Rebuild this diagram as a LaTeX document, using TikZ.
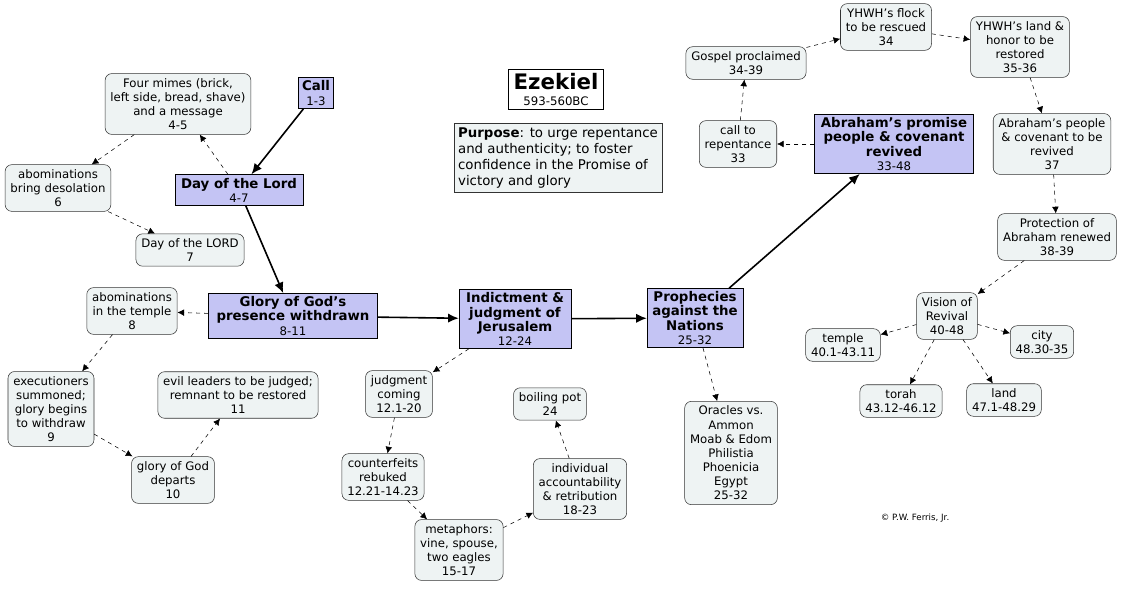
\documentclass[tikz,border=0pt]{standalone}
\usepackage{fontspec}
\setmainfont{DejaVu Sans}
\usetikzlibrary{positioning}
\usetikzlibrary{arrows.meta}
\definecolor{cLite}{HTML}{EEF3F3}
\definecolor{cMain}{HTML}{C4C4F4}
\tikzset{
  sub/.style  = {draw=black!80,fill=cLite,rounded corners=5pt,align=center,font=\fontsize{8.8}{10.6}\selectfont,inner xsep=4pt,inner ysep=3.5pt},
  main/.style = {draw=black,fill=cMain,align=center,font=\fontsize{8.8}{10.6}\selectfont,inner sep=2.5pt},
  subArrow/.style  = {-{Latex[length=5pt,width=5pt]},dashed,thin},
  mainArrow/.style = {-{Latex[length=8pt,width=7pt]},line width=1.2pt}
}
\newcommand{\hd}[1]{{\fontsize{10}{11.5}\selectfont\bfseries #1}}
\begin{document}
\begin{tikzpicture}[x=0.75pt,y=-0.75pt]
\useasboundingbox (0,0) rectangle (1126,589);
% title and purpose
\node at (556,89) [draw=black,fill=white,align=center,inner xsep=4pt,inner ysep=3pt] (nTitle) {{\fontsize{16}{17}\selectfont\bfseries Ezekiel}\\{\fontsize{8.8}{10}\selectfont 593-560BC}};
\node at (558,158) [draw=black!80,fill=cLite,align=left,font=\fontsize{10}{12.2}\selectfont,inner sep=3pt] (nPurpose) {\textbf{Purpose}: to urge repentance\\and authenticity; to foster\\confidence in the Promise of\\victory and glory};
% main chain
\node at (316,93)  [main] (nCall)  {\hd{Call}\\1-3};
\node at (239,190) [main,minimum width=96pt] (nDay)   {\hd{Day of the Lord}\\4-7};
\node at (293,316) [main,minimum width=127pt] (nGlory) {\hd{Glory of God's}\\\hd{presence withdrawn}\\8-11};
\node at (515,319) [main,minimum width=84pt] (nInd)   {\hd{Indictment \&}\\\hd{judgment of}\\\hd{Jerusalem}\\12-24};
\node at (695,318) [main,minimum width=72pt] (nProph) {\hd{Prophecies}\\\hd{against the}\\\hd{Nations}\\25-32};
\node at (894,144) [main,minimum width=119pt] (nAbr)   {\hd{Abraham's promise}\\\hd{people \& covenant}\\\hd{revived}\\33-48};
% 4-11
\node at (178,104) [sub] (nMimes)  {Four mimes (brick,\\left side, bread, shave)\\and a message\\4-5};
\node at (58,188)  [sub] (nDesol)  {abominations\\bring desolation\\6};
\node at (190,250) [sub] (nLord)   {Day of the LORD\\7};
\node at (132,311) [sub] (nTemple) {abominations\\in the temple\\8};
\node at (51,409)  [sub] (nExec)   {executioners\\summoned;\\glory begins\\to withdraw\\9};
\node at (238,395) [sub] (nEvil)   {evil leaders to be judged;\\remnant to be restored\\11};
\node at (173,480) [sub] (nDeparts){glory of God\\departs\\10};
% 12-24
\node at (399,394) [sub] (nJudg)   {judgment\\coming\\12.1-20};
\node at (383,477) [sub] (nCount)  {counterfeits\\rebuked\\12.21-14.23};
\node at (459,550) [sub] (nMeta)   {metaphors:\\vine, spouse,\\two eagles\\15-17};
\node at (580,489) [sub] (nIndiv)  {individual\\accountability\\\& retribution\\18-23};
\node at (550,404) [sub] (nPot)    {boiling pot\\24};
% 25-48
\node at (731,453) [sub] (nOrac)   {Oracles vs.\\Ammon\\Moab \& Edom\\Philistia\\Phoenicia\\Egypt\\25-32};
\node at (738,144) [sub] (nRepent) {call to\\repentance\\33};
\node at (746,63)  [sub] (nGospel) {Gospel proclaimed\\34-39};
\node at (886,27)  [sub] (nFlock)  {YHWH's flock\\to be rescued\\34};
\node at (1020,47) [sub] (nLand)   {YHWH's land \&\\honor to be\\restored\\35-36};
\node at (1052,144)[sub] (nPeople) {Abraham's people\\\& covenant to be\\revived\\37};
\node at (1057,237)[sub] (nProt)   {Protection of\\Abraham renewed\\38-39};
\node at (947,316) [sub] (nVision) {Vision of\\Revival\\40-48};
\node at (843,345) [sub] (nVTemple){temple\\40.1-43.11};
\node at (1042,342)[sub] (nCity)   {city\\48.30-35};
\node at (901,401) [sub] (nTorah)  {torah\\43.12-46.12};
\node at (1004,400)[sub] (nVLand)  {land\\47.1-48.29};
\node at (915,518) [font=\fontsize{6.5}{7}\selectfont] (nCopy) {© P.W. Ferris, Jr.};
% connectors
\draw[mainArrow] (nCall)  -- (nDay);
\draw[mainArrow] (nDay)   -- (nGlory);
\draw[mainArrow] (nGlory) -- (nInd);
\draw[mainArrow] (nInd)   -- (nProph);
\draw[mainArrow] (nProph) -- (nAbr);
\draw[subArrow] (nDay)    -- (nMimes);
\draw[subArrow] (nMimes)  -- (nDesol);
\draw[subArrow] (nDesol)  -- (nLord);
\draw[subArrow] (nGlory)  -- (nTemple);
\draw[subArrow] (nTemple) -- (nExec);
\draw[subArrow] (nExec)   -- (nDeparts);
\draw[subArrow] (nDeparts)-- (nEvil);
\draw[subArrow] (nInd)    -- (nJudg);
\draw[subArrow] (nJudg)   -- (nCount);
\draw[subArrow] (nCount)  -- (nMeta);
\draw[subArrow] (nMeta)   -- (nIndiv);
\draw[subArrow] (nIndiv)  -- (nPot);
\draw[subArrow] (nProph)  -- (nOrac);
\draw[subArrow] (nAbr)    -- (nRepent);
\draw[subArrow] (nRepent) -- (nGospel);
\draw[subArrow] (nGospel) -- (nFlock);
\draw[subArrow] (nFlock)  -- (nLand);
\draw[subArrow] (nLand)   -- (nPeople);
\draw[subArrow] (nPeople) -- (nProt);
\draw[subArrow] (nProt)   -- (nVision);
\draw[subArrow] (nVision) -- (nVTemple);
\draw[subArrow] (nVision) -- (nCity);
\draw[subArrow] (nVision) -- (nTorah);
\draw[subArrow] (nVision) -- (nVLand);
\end{tikzpicture}
\end{document}
